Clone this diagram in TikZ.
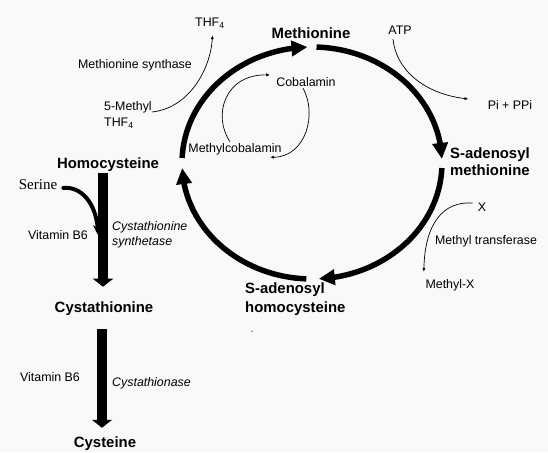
\documentclass[tikz,border=0pt]{standalone}
\usepackage{fontspec}
\setmainfont{Liberation Sans}
\newfontfamily\serifx{Liberation Serif}
\usetikzlibrary{arrows.meta,bending}
\definecolor{bgc}{HTML}{F9F9F9}
\begin{document}
\begin{tikzpicture}[x=1pt,y=1pt,
  reg/.style={inner sep=0pt, font=\fontsize{12.4}{15}\selectfont, text height=8.9pt, text depth=0pt},
  ital/.style={inner sep=0pt, font=\fontsize{12.4}{15}\selectfont\itshape, text height=8.9pt, text depth=0pt},
  bld/.style={inner sep=0pt, font=\fontsize{14.9}{18}\selectfont\bfseries, text height=10.7pt, text depth=0pt},
  cyc/.style={line width=5.5pt, -{Triangle[length=16pt,width=15pt]}},
  thin/.style={line width=0.7pt, -{Latex[length=4pt,width=3pt]}},
  bar/.style={line width=10pt, -{Triangle[length=8pt,width=20pt]}},
  serarrow/.style={line width=4pt, line cap=round, -{Stealth[length=10pt,width=9pt]}}
]
\fill[bgc] (0,0) rectangle (548,452);
\useasboundingbox (0,0) rectangle (548,452);

% labels
\node[bld] (met) at (311,419) {Methionine};
\node[bld,anchor=west] (sam1) at (450,299) {S-adenosyl};
\node[bld,anchor=west] (sam2) at (450,282) {methionine};
\node[bld,anchor=west] (sah1) at (245,164) {S-adenosyl};
\node[bld,anchor=west] (sah2) at (245,145) {homocysteine};
\node[bld] (hcy) at (108,289) {Homocysteine};
\node[bld] (cth) at (104,145) {Cystathionine};
\node[bld] (cys) at (105,10) {Cysteine};

\node[reg,anchor=west] (thf) at (195,430) {THF\textsubscript{4}};
\node[reg] (msyn) at (135,388) {Methionine synthase};
\node[reg,anchor=west] (m5a) at (104,346) {5-Methyl};
\node[reg,anchor=west] (m5b) at (104,330) {THF\textsubscript{4}};
\node[reg] (atp) at (400,422) {ATP};
\node[reg] (pi) at (510,347) {Pi + PPi};
\node[reg] (cob) at (306,370) {Cobalamin};
\node[reg] (mcob) at (235,304) {Methylcobalamin};
\node[reg] (x) at (482,245) {X};
\node[reg] (mtr) at (486,212) {Methyl transferase};
\node[reg] (mx) at (450,168) {Methyl-X};
\node[reg] (vb1) at (58,217) {Vitamin B6};
\node[reg] (vb2) at (50,75) {Vitamin B6};
\node[inner sep=0pt, font=\fontsize{7}{8}\selectfont] (dash) at (252,120) {-};
\node[ital,anchor=west] (cs1) at (112,226) {Cystathionine};
\node[ital,anchor=west] (cs2) at (112,211) {synthetase};
\node[ital,anchor=west] (cyn) at (112,70) {Cystathionase};
\node[inner sep=0pt, font=\fontsize{15}{18}\selectfont\serifx, text height=9.9pt, text depth=0pt] (serine) at (38,267) {Serine};

% main cycle
\coordinate (cen) at (312,289);
\draw[cyc] ([shift={(177.5:130pt and 116pt)}]cen) arc[start angle=177.5,end angle=92,x radius=130pt,y radius=116pt];
\draw[cyc] ([shift={(88:130pt and 116pt)}]cen) arc[start angle=88,end angle=2,x radius=130pt,y radius=116pt];
\draw[cyc] ([shift={(-2.5:130pt and 116pt)}]cen) arc[start angle=-2.5,end angle=-87,x radius=130pt,y radius=116pt];
\draw[cyc] ([shift={(-92.5:130pt and 116pt)}]cen) arc[start angle=-92.5,end angle=-177.5,x radius=130pt,y radius=116pt];

% vertical pathway
\draw[bar, shorten <=4.7pt, shorten >=14.7pt] ([xshift=-5pt]hcy.south) -- ([xshift=-1pt]cth.north);
\draw[bar, shorten <=16.7pt, shorten >=8.7pt] ([xshift=-2pt]cth.south) -- ([xshift=-3pt]cys.north);

% serine
\coordinate (join) at (98,217);
\draw[serarrow] ([xshift=6pt,yshift=-3pt]serine.east) .. controls (82,266) and (98,247) .. (join);

% thin side reactions
\draw[thin] ([yshift=-6pt]m5a.east) .. controls (190,344) and (212,385) .. ([xshift=2.5pt,yshift=-8.5pt]thf.south);
\draw[thin] ([xshift=-7pt,yshift=-4.5pt]atp.south) .. controls (396,382) and (425,357) .. ([xshift=-19pt,yshift=6pt]pi.west);
\draw[thin] ([xshift=-5pt,yshift=1.5pt]mcob.north) .. controls (212,337) and (225,380) .. ([xshift=-6pt,yshift=7pt]cob.west);
\draw[thin] ([xshift=-3pt,yshift=-1.5pt]cob.south) .. controls (318,337) and (305,292) .. ([xshift=35pt,yshift=-4.5pt]mcob.south);
\draw[thin] ([xshift=-5pt,yshift=4pt]x.west) .. controls (442,251) and (424,227) .. ([xshift=-1.5pt,yshift=12pt]mx.west);
\end{tikzpicture}
\end{document}
